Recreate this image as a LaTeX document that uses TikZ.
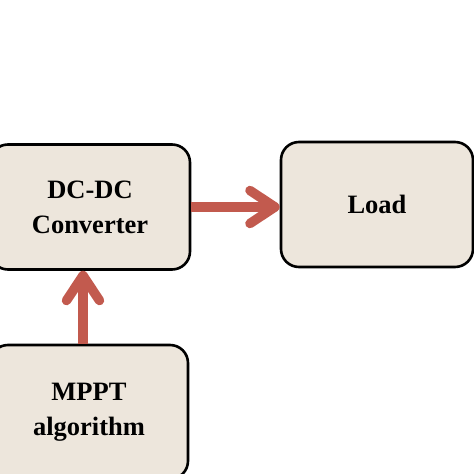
\documentclass[tikz,border=0pt]{standalone}
\usepackage{fontspec}
\setmainfont{Liberation Serif}
\usepackage{tikz}
\usetikzlibrary{positioning, arrows.meta, calc}
\definecolor{boxfill}{RGB}{237,230,220}
\definecolor{arrowred}{RGB}{194,90,78}
\tikzset{
	blockbox/.style={draw=black, line width=2.6pt, fill=boxfill, rounded corners=18pt, align=center, font=\fontsize{26.5}{35}\selectfont\bfseries}
}
\tikzset{
	flowarrow/.style={draw=arrowred, line width=9.5pt, -{Straight Barb[length=25pt, width=33pt, round, line width=9.5pt]}}
}

\begin{document}
\begin{tikzpicture}[x=1pt, y=1pt]
      \useasboundingbox (0,0) rectangle (474,474);
      \clip (0,0) rectangle (474,474);
      \node[blockbox, minimum width=200pt, minimum height=125pt] (conv) at (90,267) {DC-DC\\Converter};
      \node[blockbox, minimum width=192pt, minimum height=125pt] (load) at (377,269.5) {Load};
      \node[blockbox, minimum width=198pt, minimum height=134pt] (mppt) at (89,62) {MPPT\\algorithm};
      \draw[flowarrow] (conv.east) -- (conv.east -| load.west);
      \draw[flowarrow] ([xshift=-6pt]mppt.north) -- ([xshift=-7pt]conv.south);
    \end{tikzpicture}
\end{document}
